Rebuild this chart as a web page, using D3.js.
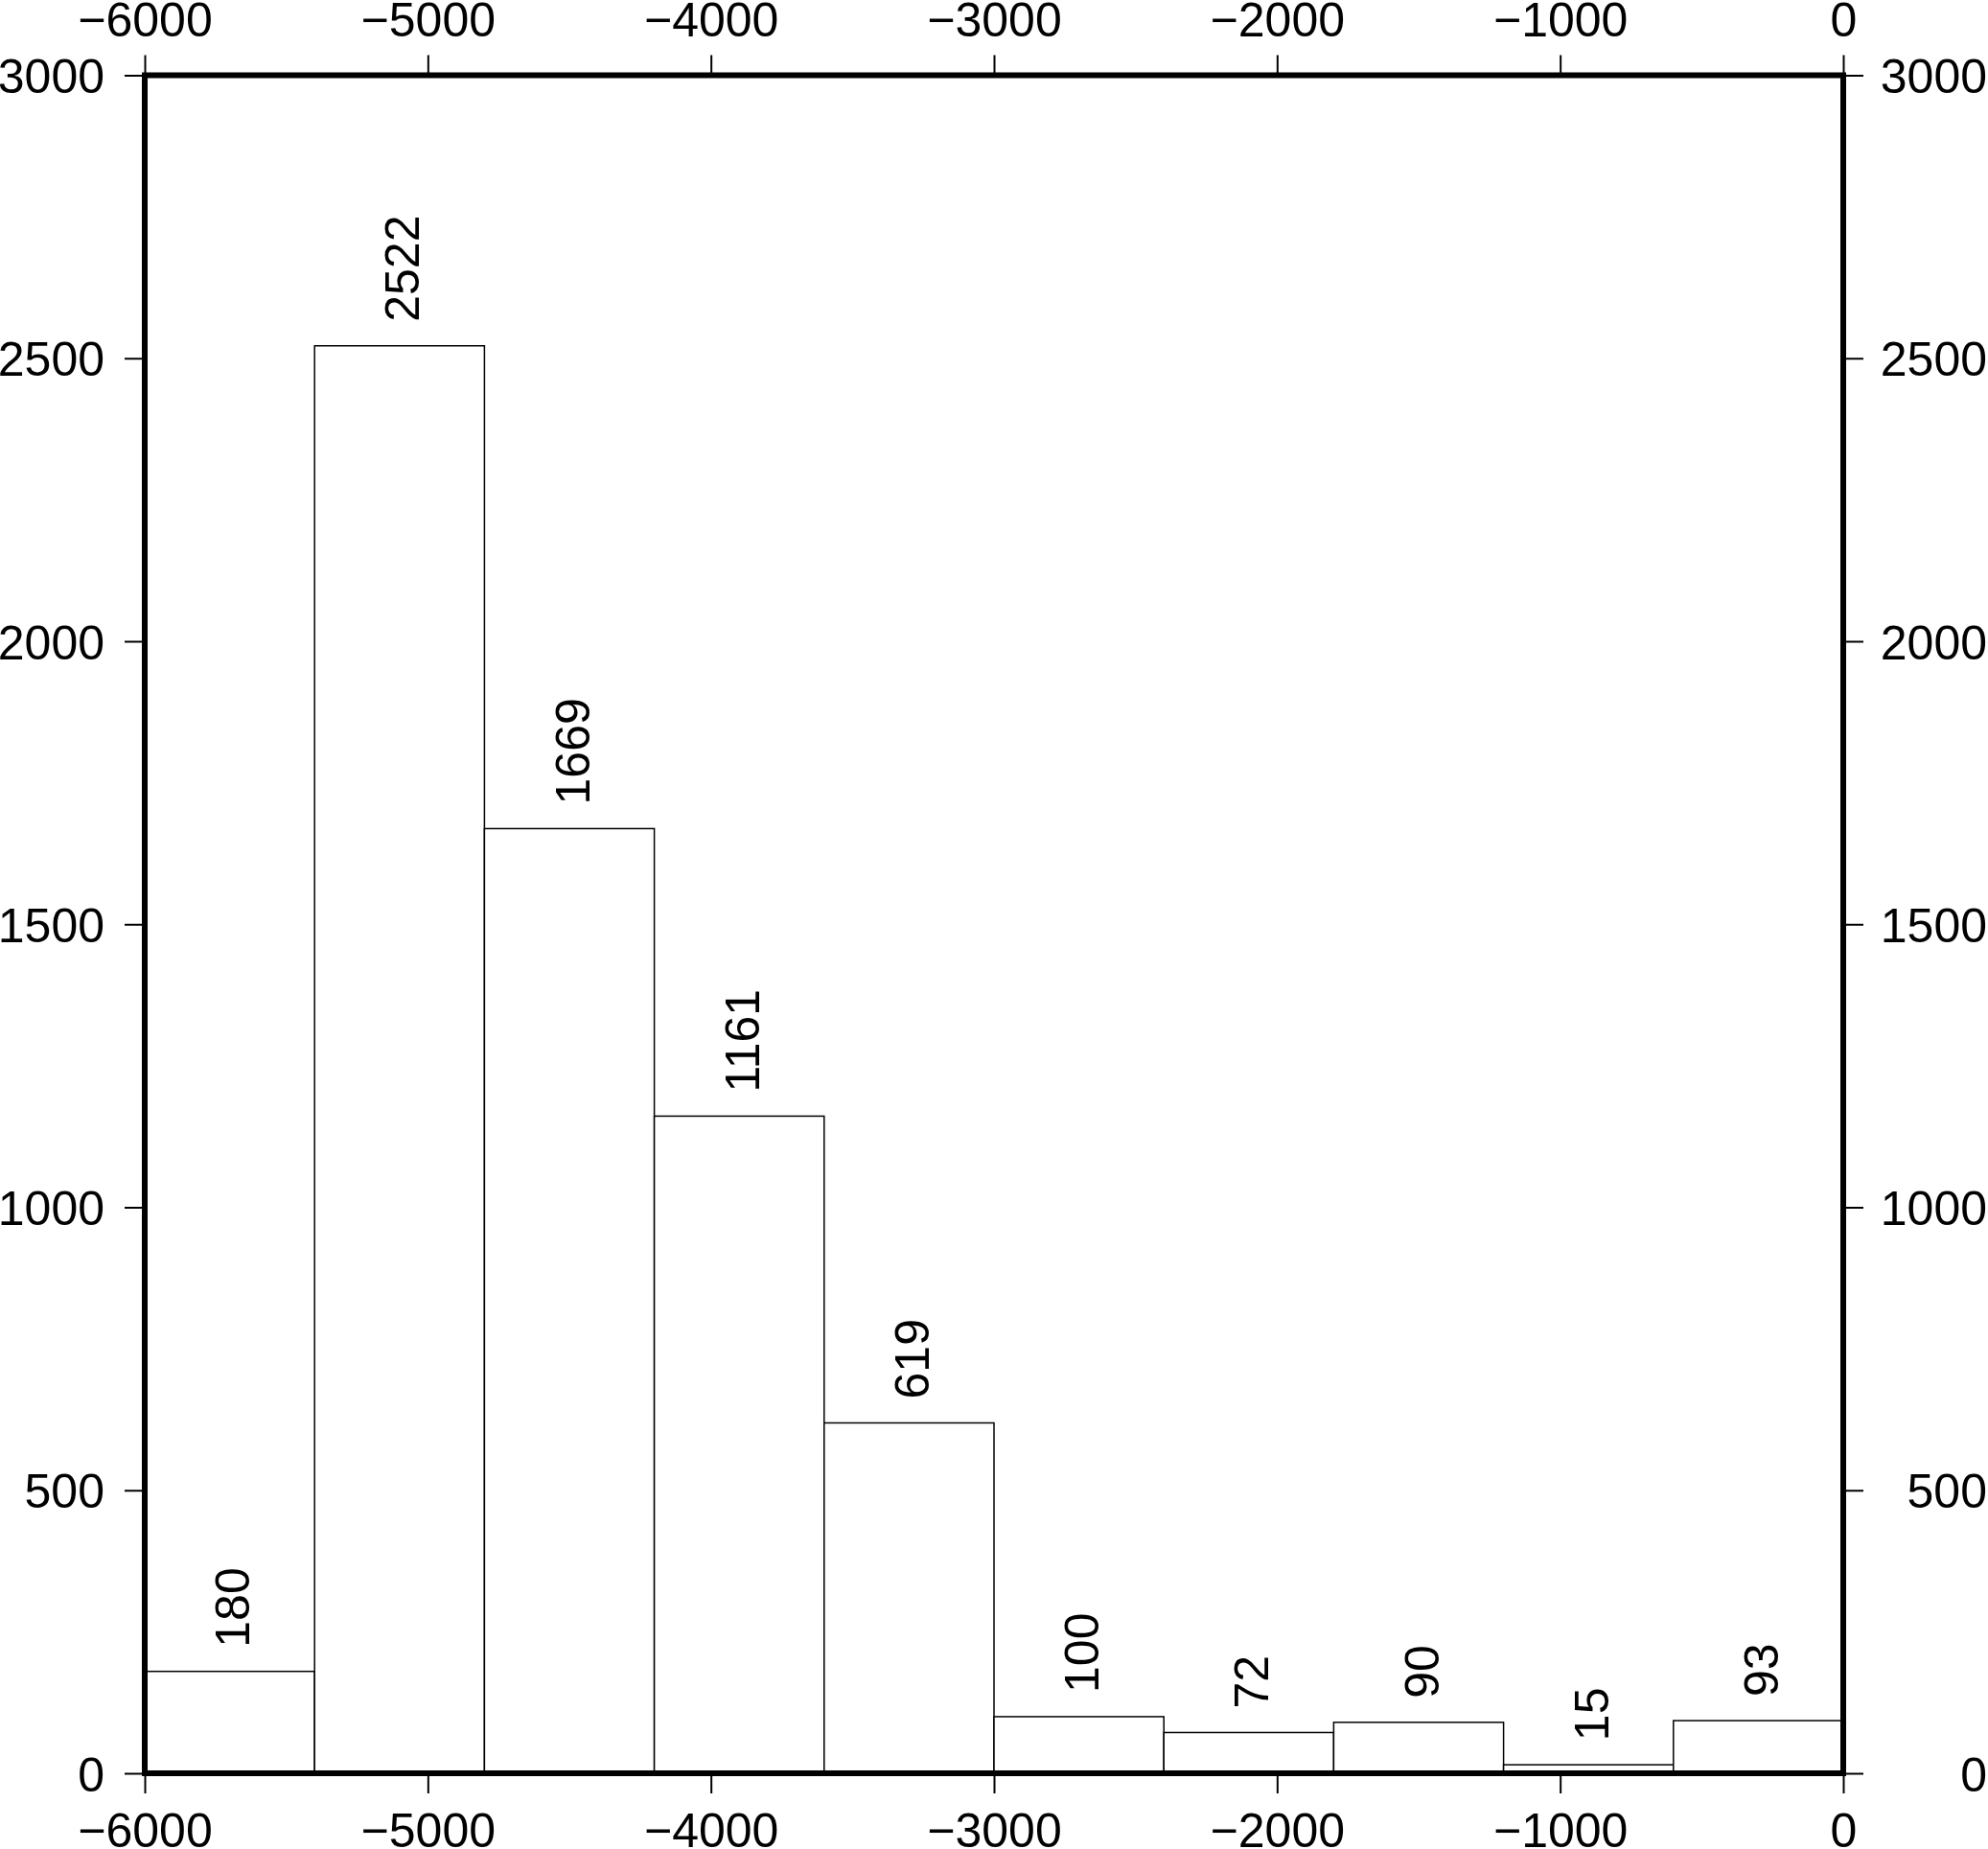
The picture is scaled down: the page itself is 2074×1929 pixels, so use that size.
<!DOCTYPE html>
<html><head><meta charset="utf-8">
<script src="https://cdn.jsdelivr.net/npm/d3@7"></script>
<style>body{margin:0;background:#fff}</style></head>
<body><svg id="c" width="2074" height="1929"></svg>
<script>
const binStarts = [-6000,-5400,-4800,-4200,-3600,-3000,-2400,-1800,-1200,-600];
const binWidth = 600;
const counts = [180,2522,1669,1161,619,100,72,90,15,93];
const xTicks = [-6000,-5000,-4000,-3000,-2000,-1000,0];
const yTicks = [0,500,1000,1500,2000,2500,3000];

const L = 151, R = 1923, T = 78.5, B = 1850;
const FONT = "'Liberation Sans', Arial, Helvetica, sans-serif";
const FS = 50;
const fmt = d3.format('d');
const svg = d3.select('#c');
const x = d3.scaleLinear().domain([-6000, 0]).range([L, R]);
const y = d3.scaleLinear().domain([0, 3000]).range([B, T]);

// bars
svg.append('g').selectAll('rect').data(binStarts).join('rect')
  .attr('x', d => x(d))
  .attr('y', (d, i) => y(counts[i]))
  .attr('width', d => x(d + binWidth) - x(d))
  .attr('height', (d, i) => y(0) - y(counts[i]))
  .attr('fill', '#fff').attr('stroke', '#000').attr('stroke-width', 1.5);

// bar labels
svg.append('g').selectAll('text').data(binStarts).join('text')
  .attr('transform', (d, i) => `translate(${x(d + binWidth / 2) + 20.5},${y(counts[i]) - 25}) rotate(-90)`)
  .attr('font-family', FONT).attr('font-size', FS).attr('fill', '#000')
  .text((d, i) => counts[i]);

// frame
svg.append('rect').attr('x', L).attr('y', T).attr('width', R - L).attr('height', B - T)
  .attr('fill', 'none').attr('stroke', '#000').attr('stroke-width', 6);

function style(g) {
  g.select('.domain').remove();
  g.attr('font-family', FONT).attr('font-size', FS);
  g.selectAll('.tick line').attr('stroke', '#000').attr('stroke-width', 2);
  g.selectAll('.tick text').attr('fill', '#000');
}

svg.append('g').attr('transform', `translate(0,${T})`)
  .call(d3.axisTop(x).tickValues(xTicks).tickFormat(fmt).tickSize(21).tickSizeOuter(0).tickPadding(20)).call(style);
svg.append('g').attr('transform', `translate(0,${B})`)
  .call(d3.axisBottom(x).tickValues(xTicks).tickFormat(fmt).tickSize(21).tickSizeOuter(0).tickPadding(20)).call(style);
svg.append('g').attr('transform', `translate(${L},0)`)
  .call(d3.axisLeft(y).tickValues(yTicks).tickFormat(fmt).tickSize(21).tickSizeOuter(0).tickPadding(21)).call(style)
  .selectAll('.tick text').attr('dy', '0.36em');
const gr = svg.append('g').attr('transform', `translate(${R},0)`)
  .call(d3.axisRight(y).tickValues(yTicks).tickFormat(fmt).tickSize(21).tickSizeOuter(0).tickPadding(20)).call(style);
gr.selectAll('.tick text').attr('dy', '0.36em').attr('text-anchor', 'end').attr('x', 2073 - R);
</script></body></html>
